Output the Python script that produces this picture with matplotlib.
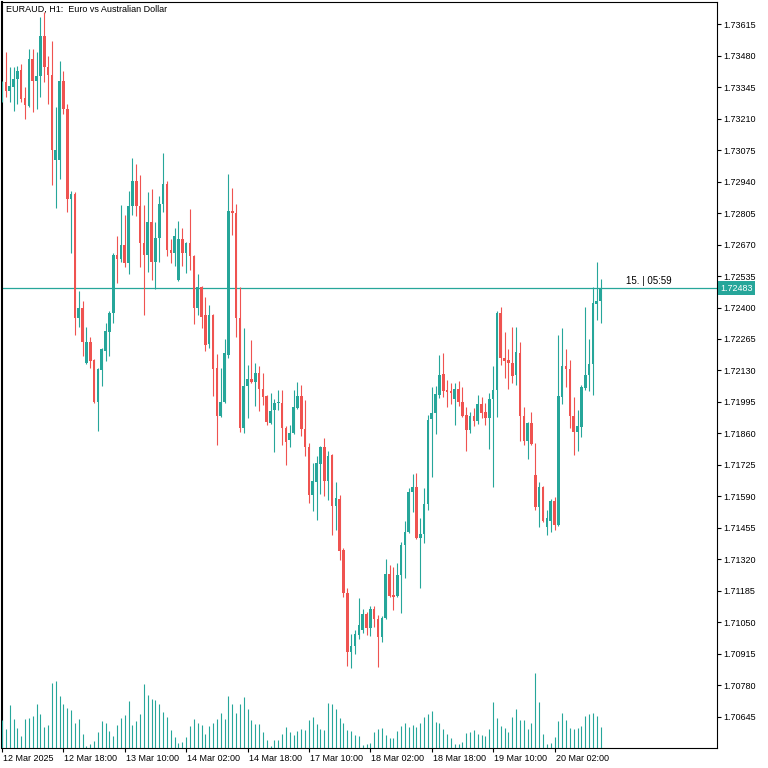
import matplotlib
matplotlib.use("Agg")
import matplotlib.pyplot as plt
import matplotlib.transforms as mtransforms

plt.rcParams['font.family'] = ['Liberation Sans', 'DejaVu Sans']

title = "EURAUD, H1:  Euro vs Australian Dollar"
timer_text = "15. | 05:59"
last_price = 1.72483

tick_bars = [0, 16, 32, 48, 64, 80, 96, 112, 128, 144]
tick_labels = ["12 Mar 2025", "12 Mar 18:00", "13 Mar 10:00", "14 Mar 02:00",
               "14 Mar 18:00", "17 Mar 10:00", "18 Mar 02:00", "18 Mar 18:00",
               "19 Mar 10:00", "20 Mar 02:00"]

price_ticks = [1.73615, 1.73480, 1.73345, 1.73210, 1.73075, 1.72940, 1.72805,
               1.72670, 1.72535, 1.72400, 1.72265, 1.72130, 1.71995, 1.71860,
               1.71725, 1.71590, 1.71455, 1.71320, 1.71185, 1.71050, 1.70915,
               1.70780, 1.70645]

opens = [1.73293, 1.73366, 1.73327, 1.73345, 1.73379, 1.73418, 1.73297, 1.73263, 1.73465, 1.73370,
         1.73392, 1.73564, 1.73430, 1.73396, 1.73035, 1.73035, 1.73370, 1.73254, 1.72864, 1.72889,
         1.72357, 1.72396, 1.72164, 1.72254, 1.72177, 1.71996, 1.72134, 1.72215, 1.72297, 1.72378,
         1.72627, 1.72610, 1.72670, 1.72593, 1.72834, 1.72945, 1.72834, 1.72679, 1.72627, 1.72765,
         1.72597, 1.72700, 1.72846, 1.72932, 1.72649, 1.72636, 1.72516, 1.72696, 1.72636, 1.72675,
         1.72623, 1.72400, 1.72486, 1.72366, 1.72245, 1.72366, 1.72142, 1.71936, 1.71996, 1.72198,
         1.72816, 1.72804, 1.72357, 1.71885, 1.72065, 1.72095, 1.72082, 1.72121, 1.72052, 1.72022,
         1.71906, 1.71962, 1.71992, 1.71992, 1.71885, 1.71833, 1.71863, 1.71970, 1.72022, 1.71880,
         1.71803, 1.71597, 1.71653, 1.71730, 1.71803, 1.71657, 1.71768, 1.71550, 1.71580, 1.71361,
         1.71176, 1.70923, 1.70949, 1.70996, 1.71017, 1.71086, 1.71026, 1.71107, 1.71064, 1.70987,
         1.71069, 1.71258, 1.71168, 1.71163, 1.71253, 1.71382, 1.71438, 1.71610, 1.71631, 1.71412,
         1.71429, 1.71558, 1.71923, 1.71949, 1.72026, 1.72116, 1.72048, 1.72043, 1.72009, 1.72052,
         1.71996, 1.71940, 1.71876, 1.71936, 1.71915, 1.71988, 1.71953, 1.71928, 1.72009, 1.72048,
         1.72378, 1.72185, 1.72177, 1.72164, 1.72112, 1.72207, 1.71936, 1.71829, 1.71906, 1.71683,
         1.71545, 1.71631, 1.71460, 1.71485, 1.71571, 1.71468, 1.72018, 1.72147, 1.72138, 1.71936,
         1.71867, 1.71889, 1.72056, 1.72112, 1.72159, 1.72417, 1.72426]

highs = [1.73370, 1.73495, 1.73430, 1.73430, 1.73435, 1.73443, 1.73345, 1.73508, 1.73508, 1.73495,
         1.73645, 1.73667, 1.73478, 1.73542, 1.73259, 1.73456, 1.73413, 1.73272, 1.72898, 1.72894,
         1.72469, 1.72426, 1.72318, 1.72275, 1.72181, 1.72142, 1.72228, 1.72335, 1.72383, 1.72632,
         1.72705, 1.72838, 1.72799, 1.72898, 1.73040, 1.73014, 1.72967, 1.72842, 1.72894, 1.72907,
         1.72765, 1.72877, 1.73065, 1.72941, 1.72696, 1.72743, 1.72773, 1.72743, 1.72683, 1.72821,
         1.72625, 1.72542, 1.72494, 1.72447, 1.72413, 1.72374, 1.72202, 1.72142, 1.72267, 1.72975,
         1.72911, 1.72846, 1.72486, 1.72314, 1.72155, 1.72262, 1.72164, 1.72151, 1.72121, 1.72026,
         1.72035, 1.72009, 1.72048, 1.72048, 1.71893, 1.71897, 1.72048, 1.72082, 1.72069, 1.72005,
         1.71820, 1.71734, 1.71764, 1.71807, 1.71842, 1.71786, 1.71770, 1.71653, 1.71597, 1.71369,
         1.71198, 1.71000, 1.71017, 1.71155, 1.71107, 1.71095, 1.71120, 1.71120, 1.71082, 1.71077,
         1.71322, 1.71296, 1.71288, 1.71305, 1.71395, 1.71485, 1.71627, 1.71687, 1.71691, 1.71498,
         1.71627, 1.71940, 1.72061, 1.72065, 1.72198, 1.72207, 1.72091, 1.72078, 1.72078, 1.72086,
         1.72061, 1.71975, 1.71953, 1.71970, 1.72026, 1.72018, 1.71992, 1.72035, 1.72147, 1.72383,
         1.72404, 1.72293, 1.72220, 1.72318, 1.72318, 1.72250, 1.71975, 1.71910, 1.71953, 1.71820,
         1.71653, 1.71635, 1.71533, 1.71580, 1.71588, 1.72280, 1.72314, 1.72220, 1.72177, 1.72018,
         1.71962, 1.72069, 1.72404, 1.72267, 1.72490, 1.72597, 1.72524]

lows = [1.73280, 1.73302, 1.73280, 1.73242, 1.73272, 1.73284, 1.73207, 1.73259, 1.73237, 1.73250,
        1.73302, 1.73366, 1.73272, 1.72924, 1.72829, 1.72950, 1.73229, 1.72812, 1.72636, 1.72284,
        1.72318, 1.72194, 1.72159, 1.72142, 1.71992, 1.71872, 1.72065, 1.72172, 1.72194, 1.72335,
        1.72507, 1.72597, 1.72576, 1.72542, 1.72799, 1.72791, 1.72576, 1.72370, 1.72554, 1.72520,
        1.72481, 1.72597, 1.72808, 1.72619, 1.72593, 1.72580, 1.72512, 1.72580, 1.72550, 1.72559,
        1.72331, 1.72366, 1.72314, 1.72215, 1.72228, 1.72022, 1.71812, 1.71932, 1.71992, 1.72185,
        1.72713, 1.72275, 1.71867, 1.71863, 1.71928, 1.72078, 1.71979, 1.71958, 1.71983, 1.71897,
        1.71902, 1.71782, 1.71962, 1.71812, 1.71726, 1.71803, 1.71859, 1.71966, 1.71850, 1.71764,
        1.71563, 1.71528, 1.71490, 1.71601, 1.71593, 1.71575, 1.71425, 1.71447, 1.71318, 1.71159,
        1.70863, 1.70854, 1.70914, 1.70979, 1.71004, 1.70996, 1.70991, 1.71030, 1.70858, 1.70966,
        1.71064, 1.71159, 1.71103, 1.71159, 1.71090, 1.71240, 1.71434, 1.71524, 1.71408, 1.71198,
        1.71391, 1.71533, 1.71674, 1.71859, 1.72013, 1.72018, 1.71975, 1.71988, 1.71897, 1.71979,
        1.71932, 1.71786, 1.71863, 1.71893, 1.71902, 1.71928, 1.71897, 1.71794, 1.71631, 1.71932,
        1.72155, 1.72099, 1.72052, 1.72078, 1.72069, 1.71829, 1.71812, 1.71751, 1.71812, 1.71533,
        1.71460, 1.71481, 1.71425, 1.71438, 1.71447, 1.71464, 1.71988, 1.72061, 1.71885, 1.71768,
        1.71786, 1.71846, 1.72048, 1.72043, 1.72026, 1.72348, 1.72335]

closes = [1.73362, 1.73327, 1.73349, 1.73379, 1.73413, 1.73293, 1.73267, 1.73465, 1.73370, 1.73392,
          1.73564, 1.73430, 1.73396, 1.73078, 1.73078, 1.73370, 1.73250, 1.72864, 1.72889, 1.72357,
          1.72400, 1.72250, 1.72254, 1.72172, 1.71996, 1.72138, 1.72220, 1.72301, 1.72378, 1.72627,
          1.72610, 1.72670, 1.72593, 1.72834, 1.72945, 1.72834, 1.72679, 1.72627, 1.72765, 1.72597,
          1.72700, 1.72846, 1.72928, 1.72649, 1.72636, 1.72705, 1.72696, 1.72636, 1.72679, 1.72623,
          1.72400, 1.72486, 1.72361, 1.72241, 1.72366, 1.72138, 1.71936, 1.71996, 1.72207, 1.72816,
          1.72804, 1.72357, 1.71885, 1.72065, 1.72095, 1.72082, 1.72121, 1.72052, 1.72018, 1.71910,
          1.71958, 1.71992, 1.71996, 1.71885, 1.71824, 1.71863, 1.71975, 1.72022, 1.71880, 1.71803,
          1.71597, 1.71657, 1.71734, 1.71803, 1.71657, 1.71764, 1.71550, 1.71584, 1.71356, 1.71176,
          1.70923, 1.70949, 1.71000, 1.71039, 1.71086, 1.71026, 1.71107, 1.71064, 1.70987, 1.71069,
          1.71258, 1.71163, 1.71159, 1.71253, 1.71382, 1.71438, 1.71610, 1.71631, 1.71412, 1.71429,
          1.71558, 1.71919, 1.71949, 1.72031, 1.72112, 1.72043, 1.72039, 1.72035, 1.72052, 1.71996,
          1.71936, 1.71876, 1.71936, 1.71915, 1.71988, 1.71949, 1.71928, 1.72009, 1.72048, 1.72378,
          1.72185, 1.72172, 1.72164, 1.72108, 1.72211, 1.71936, 1.71829, 1.71906, 1.71816, 1.71545,
          1.71631, 1.71485, 1.71498, 1.71571, 1.71468, 1.72022, 1.72147, 1.72138, 1.71936, 1.71867,
          1.71893, 1.72061, 1.72112, 1.72159, 1.72421, 1.72426, 1.72483]

volumes = [2100, 1425, 3225, 2200, 1475, 925, 2200, 2275, 2425, 3300,
           2575, 1550, 1750, 4875, 5050, 3925, 3300, 3000, 2850, 1900,
           2200, 1075, 175, 325, 550, 1200, 2050, 1900, 1300, 925,
           1700, 2275, 2450, 3500, 1725, 2050, 2525, 4800, 4000, 3700,
           3625, 3300, 2725, 2325, 1350, 850, 350, 425, 800, 1650,
           2200, 1900, 1700, 1075, 1650, 1900, 2200, 2600, 2200, 3925,
           3325, 2650, 3300, 3800, 2950, 2125, 1775, 1775, 1175, 625,
           175, 625, 625, 1075, 1575, 1200, 1000, 1250, 1400, 1350,
           2125, 2350, 1775, 1400, 1350, 3350, 3300, 2900, 2275, 1850,
           1350, 1300, 1000, 925, 250, 325, 400, 1200, 1425, 1500,
           1000, 750, 750, 1250, 1675, 1850, 1550, 1750, 1550, 1900,
           2325, 2575, 2800, 1975, 1850, 1400, 1075, 775, 325, 325,
           475, 1125, 1200, 1350, 1050, 1000, 900, 1400, 3425, 2275,
           1625, 1475, 1200, 2350, 2925, 2125, 2125, 1425, 1900, 5625,
           3475, 1050, 325, 400, 850, 2050, 2625, 2125, 1475, 1425,
           1475, 1625, 2425, 2550, 2625, 2425, 1550]

BULL = "#26a69a"
BEAR = "#ef5350"
LINE = "#26a69a"

W, H = 768, 768
fig = plt.figure(figsize=(W / 100, H / 100), dpi=100)
ax = fig.add_axes([2 / W, 20 / H, 715 / W, 746 / H])

n = len(opens)
xs = list(range(n))
colors = [BULL if c >= o else BEAR for o, c in zip(opens, closes)]
bottoms = [min(o, c) for o, c in zip(opens, closes)]
heights = [max(abs(c - o), 0.00002) for o, c in zip(opens, closes)]

# volume pane (created first so that twinx does not move the price ticks afterwards)
ax2 = ax.twinx()
ax2.set_ylim(0, 75 * 746)
ax2.vlines(xs, 0, volumes, colors=BULL, linewidth=0.8)
ax2.axis('off')

ax.axhline(last_price, color=LINE, lw=0.9, zorder=2)
ax.vlines(xs, lows, highs, colors=colors, linewidth=0.8, zorder=3)
ax.bar(xs, heights, bottom=bottoms, width=0.68, color=colors, linewidth=0, zorder=4)

ax.set_xlim(0.05, 186.35)
ax.set_ylim(1.70510, 1.73711)

ax.yaxis.tick_right()
ax.yaxis.set_label_position('right')
ax.set_yticks(price_ticks)
ax.set_yticklabels([f"{v:.5f}" for v in price_ticks])
ax.tick_params(axis='y', which='both', left=False, labelleft=False, right=True, labelright=True,
               direction='out', length=3, width=0.8, pad=1.5, labelsize=6.5, colors='black')
ax.set_xticks(tick_bars)
ax.set_xticklabels(tick_labels, ha='left')
ax.tick_params(axis='x', direction='out', length=3, width=0.8, pad=1.5,
               labelsize=6.5, colors='black')
for lab in ax.get_xticklabels():
    lab.set_transform(lab.get_transform() + mtransforms.ScaledTranslation(1 / 100, 0, fig.dpi_scale_trans))

for s in ax.spines.values():
    s.set_color('black')
    s.set_linewidth(0.8)
ax.spines['left'].set_linewidth(1.5)

blend = mtransforms.blended_transform_factory(ax.transAxes, ax.transData)
ax.text(1.004, last_price, f"{last_price:.5f}", transform=blend, ha='left', va='center',
        color='white', fontsize=6.5, zorder=10, clip_on=False,
        bbox=dict(boxstyle='square,pad=0.25', fc=LINE, ec='none'))
ax.text(0.937, last_price, timer_text,
        transform=mtransforms.offset_copy(blend, fig=fig, y=1.5, units='points'),
        ha='right', va='bottom', color='black', fontsize=7, zorder=10)

fig.text(6 / W, 1 - 9 / H, title, ha='left', va='center', fontsize=6.5, color='black')

fig.savefig("out.png", dpi=100)
